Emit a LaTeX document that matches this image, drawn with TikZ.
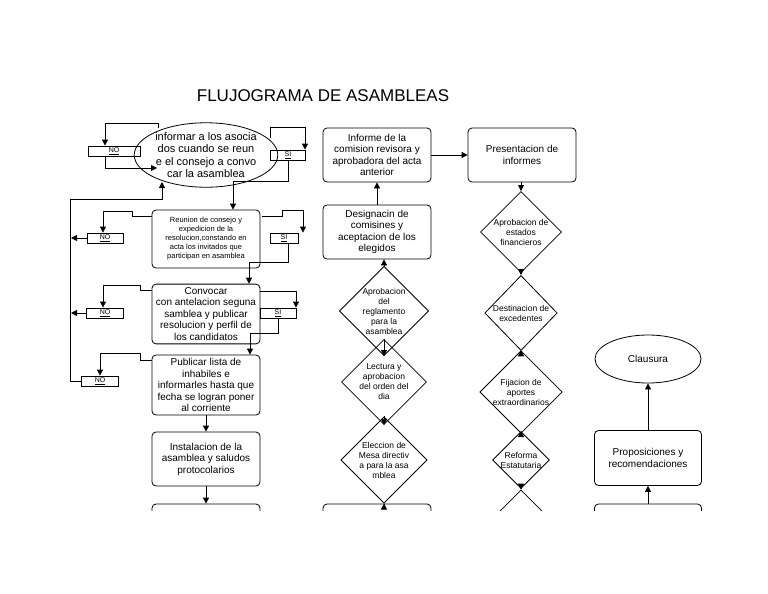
\documentclass[tikz,border=0pt]{standalone}
\usepackage{fontspec}
\setmainfont{Liberation Sans}
\usetikzlibrary{shapes.geometric,arrows.meta}
\begin{document}
\begin{tikzpicture}[x=1pt,y=-1pt,
  box/.style={draw,rounded corners=4pt,thick,align=center,font=\fontsize{10}{11.5}\selectfont},
  dia/.style={draw,diamond,thick,align=center,inner sep=0pt,font=\fontsize{8.5}{10}\selectfont},
  tag/.style={draw,thick,minimum height=10pt,inner sep=0pt,font=\fontsize{7}{8}\selectfont},
  ar/.style={thick,-{Triangle[length=6pt,width=6pt]}},
  ln/.style={thick}]
\useasboundingbox (0,0) rectangle (768,594);
\node[font=\fontsize{17}{20}\selectfont] (title) at (323,96) {FLUJOGRAMA DE ASAMBLEAS};
\begin{scope}
\clip (0,0) rectangle (768,510);
% column 1
\node[draw,ellipse,thick,minimum width=108pt,minimum height=60pt,inner sep=0pt,align=center,font=\fontsize{11}{12.5}\selectfont] (e1) at (206,155) {informar a los asocia\\dos cuando se reun\\e el consejo a convo\\car la asamblea};
\node[tag,minimum width=52pt] (no1) at (114,151) {\underline{NO}};
\node[tag,minimum width=35pt] (si1) at (288,155) {\underline{SI}};
\node[box,font=\fontsize{7.5}{9}\selectfont,minimum width=108pt,minimum height=58pt] (b2) at (206,239) {Reunion de consejo y\\expedicion de la\\resolucion,constando en\\acta los invitados que\\participan en asamblea};
\node[tag,minimum width=36pt] (no2) at (105,238) {\underline{NO}};
\node[tag,minimum width=28pt] (si2) at (284,238) {\underline{SI}};
\node[box,minimum width=108pt,minimum height=54pt] (b3) at (206,314) {Convocar\\con antelacion seguna\\samblea y publicar\\resolucion y perfil de\\los candidatos};
\node[tag,minimum width=37pt] (no3) at (105,313) {\underline{NO}};
\node[tag,minimum width=36pt] (si3) at (278,313) {\underline{SI}};
\node[box,minimum width=108pt,minimum height=54pt] (b4) at (206,385) {Publicar lista de\\inhabiles e\\informarles hasta que\\fecha se logran poner\\al corriente};
\node[tag,minimum width=37pt] (no4) at (100,381) {\underline{NO}};
\node[box,minimum width=108pt,minimum height=54pt] (b5) at (206,459) {Instalacion de la\\asamblea y saludos\\protocolarios};
\node[box,minimum width=108pt,minimum height=54pt] (b6) at (206,531) {};
% column 1 connectors
\coordinate (c1) at (158,128);
\draw[ln] (c1) -- (158,123) -- (105,123);
\draw[ar] (105,123) -- (no1.north -| 105,0);
\draw[ar] (no1.south -| 105,0) -- (105,168) -- (157,168);
\draw[ln] (270,138) -- (270,127) -- (305,127);
\draw[ar] (305,127) -- (si1.north -| 305,0);
\draw[ln] (si1.south) -- (288,181) -- (233,181);
\draw[ar] (233,181) -- (b2.north -| 233,0);
\draw[ar] (70,381) -- (70,199) -- (162,199) -- (162,182);
\draw[ln] (b2.north west |- 0,216) -- (132,216) -- (132,211) -- (103,211);
\draw[ar] (103,211) -- (no2.north -| 103,0);
\draw[ar] (no2.west) -- (71,238);
\draw[ln] (262,216) -- (282,216) -- (282,210) -- (303,210);
\draw[ar] (303,210) -- (si2.north -| 303,0);
\draw[ln] (si2.south -| 288,0) -- (288,262) -- (249,262);
\draw[ar] (249,262) -- (b3.north -| 249,0);
\draw[ln] (152,290) -- (140,290) -- (140,285) -- (103,285);
\draw[ar] (103,285) -- (no3.north -| 103,0);
\draw[ar] (no3.west) -- (71,313);
\draw[ln] (260,291) -- (296,291);
\draw[ar] (296,291) -- (si3.north -| 296,0);
\draw[ln] (si3.south -| 278,0) -- (278,333) -- (250,333);
\draw[ar] (250,333) -- (b4.north -| 250,0);
\draw[ln] (152,360) -- (140,360) -- (140,353) -- (100,353);
\draw[ar] (100,353) -- (no4.north);
\draw[ln] (no4.west) -- (70,381);
\draw[ar] (b4) -- (b5);
\draw[ar] (b5) -- (b6);
% column 2
\node[box,minimum width=108pt,minimum height=54pt] (a) at (377,155) {Informe de la\\comision revisora y\\aprobadora del acta\\anterior};
\node[box,minimum width=108pt,minimum height=54pt] (b) at (377,232) {Designacin de\\comisines y\\aceptacion de los\\elegidos};
\node[dia,minimum width=60pt,minimum height=64pt] (d1) at (384,311) {Aprobacion\\del\\reglamento\\para la\\asamblea};
\node[dia,minimum width=64pt,minimum height=68pt] (d2) at (384,382) {Lectura y\\aprobacion\\del orden del\\dia};
\node[dia,minimum width=64pt,minimum height=67pt] (d3) at (384,460) {Eleccion de\\Mesa directiv\\a  para la asa\\mblea};
\node[box,minimum width=108pt,minimum height=54pt] (b7) at (377,531) {};
\draw[ar] (b7.north -| d3) -- (d3.south);
\draw[ar] (d3.north) -- (d2.south);
\draw[ar] (d2.north) -- (d1.south);
\draw[ar] (d1.north) -- (b.south -| d1);
\draw[ar] (b) -- (a);
% column 3
\node[box,minimum width=108pt,minimum height=54pt] (c) at (522,155) {Presentacion de\\informes};
\draw[ar] (a) -- (c);
\node[dia,minimum width=72pt,minimum height=73pt] (f1) at (521,232) {Aprobacion de\\estados\\financieros};
\node[dia,minimum width=72pt,minimum height=75pt] (f2) at (521,313) {Destinacion de\\excedentes};
\node[dia,minimum width=62pt,minimum height=72pt] (f3) at (521,392) {Fijacion de\\aportes\\extraordinarios};
\node[dia,minimum width=52pt,minimum height=56pt] (f4) at (521,460) {Reforma\\Estatutaria};
\node[dia,minimum width=60pt,minimum height=60pt] (f5) at (521,520) {};
\draw[ar] (c.south -| f1) -- (f1.north);
\draw[ar] (f1) -- (f2);
\draw[ar] (f2) -- (f3);
\draw[ar] (f3) -- (f4);
\draw[ar] (f4) -- (f5);
% column 4
\node[draw,ellipse,thick,minimum width=106pt,minimum height=48pt,font=\fontsize{10}{11.5}\selectfont] (cl) at (648,359) {Clausura};
\node[box,minimum width=107pt,minimum height=55pt] (p) at (648,458) {Proposiciones y\\recomendaciones};
\node[box,minimum width=107pt,minimum height=54pt] (b8) at (648,531) {};
\draw[ar] (b8) -- (p);
\draw[ar] (p) -- (cl);
\end{scope}
\end{tikzpicture}
\end{document}
